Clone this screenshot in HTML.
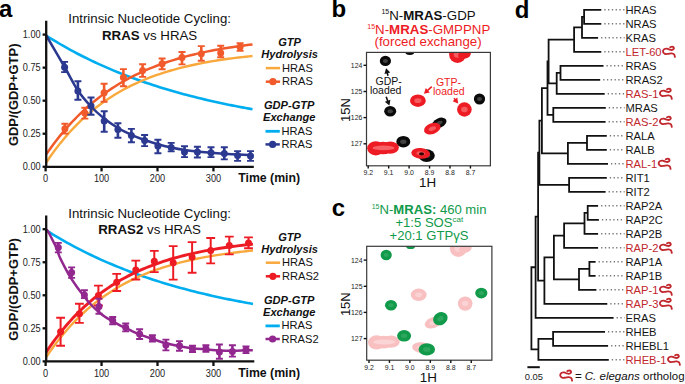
<!DOCTYPE html><html><head><meta charset="utf-8"><style>html,body{margin:0;padding:0;background:#fff;width:685px;height:384px;overflow:hidden}svg{display:block}text{font-family:"Liberation Sans",sans-serif}</style></head><body><svg width="685" height="384" viewBox="0 0 685 384" font-family="&quot;Liberation Sans&quot;, sans-serif">
<rect width="685" height="384" fill="#fff"/>
<text x="-1.00" y="17.00" font-size="24.00" font-weight="bold" font-style="normal" text-anchor="start" fill="#000" >a</text>
<text x="149.60" y="23.00" font-size="13.25" font-weight="normal" font-style="normal" text-anchor="middle" fill="#111" >Intrinsic Nucleotide Cycling:</text>
<text x="149.6" y="39.60" font-size="13.3" text-anchor="middle" fill="#111"><tspan font-weight="bold">RRAS</tspan> vs HRAS</text>
<text transform="translate(18.3,94.80) rotate(-90)" font-size="13.5" font-weight="bold" text-anchor="middle" fill="#111" textLength="102.5" lengthAdjust="spacingAndGlyphs">GDP/(GDP+GTP)</text>
<path d="M46.20,35.66 L49.64,37.81 L53.08,39.92 L56.52,41.98 L59.95,44.00 L63.39,45.98 L66.83,47.91 L70.27,49.81 L73.71,51.66 L77.15,53.48 L80.58,55.25 L84.02,56.99 L87.46,58.69 L90.90,60.36 L94.34,61.99 L97.78,63.59 L101.21,65.15 L104.65,66.68 L108.09,68.18 L111.53,69.64 L114.97,71.08 L118.41,72.48 L121.84,73.85 L125.28,75.20 L128.72,76.52 L132.16,77.80 L135.60,79.07 L139.04,80.30 L142.47,81.51 L145.91,82.69 L149.35,83.85 L152.79,84.99 L156.23,86.09 L159.67,87.18 L163.10,88.24 L166.54,89.28 L169.98,90.30 L173.42,91.30 L176.86,92.28 L180.30,93.23 L183.73,94.17 L187.17,95.08 L190.61,95.98 L194.05,96.86 L197.49,97.71 L200.93,98.55 L204.36,99.38 L207.80,100.18 L211.24,100.97 L214.68,101.74 L218.12,102.50 L221.56,103.24 L224.99,103.96 L228.43,104.67 L231.87,105.36 L235.31,106.04 L238.75,106.70 L242.19,107.35 L245.62,107.99 L249.06,108.61 L252.50,109.22" stroke="#00aeef" stroke-width="2.6" fill="none"/>
<path d="M46.20,162.56 L49.64,157.50 L53.08,152.67 L56.52,148.05 L59.95,143.63 L63.39,139.41 L66.83,135.38 L70.27,131.52 L73.71,127.84 L77.15,124.32 L80.58,120.95 L84.02,117.74 L87.46,114.67 L90.90,111.73 L94.34,108.93 L97.78,106.25 L101.21,103.69 L104.65,101.24 L108.09,98.90 L111.53,96.66 L114.97,94.53 L118.41,92.48 L121.84,90.53 L125.28,88.67 L128.72,86.89 L132.16,85.18 L135.60,83.56 L139.04,82.00 L142.47,80.52 L145.91,79.10 L149.35,77.74 L152.79,76.44 L156.23,75.20 L159.67,74.02 L163.10,72.89 L166.54,71.81 L169.98,70.77 L173.42,69.79 L176.86,68.84 L180.30,67.94 L183.73,67.08 L187.17,66.25 L190.61,65.47 L194.05,64.71 L197.49,64.00 L200.93,63.31 L204.36,62.65 L207.80,62.02 L211.24,61.43 L214.68,60.85 L218.12,60.30 L221.56,59.78 L224.99,59.28 L228.43,58.80 L231.87,58.35 L235.31,57.91 L238.75,57.49 L242.19,57.10 L245.62,56.71 L249.06,56.35 L252.50,56.00" stroke="#f9a83c" stroke-width="2.4" fill="none"/>
<path d="M46.20,154.37 L49.64,149.45 L53.08,144.74 L56.52,140.22 L59.95,135.89 L63.39,131.73 L66.83,127.75 L70.27,123.93 L73.71,120.26 L77.15,116.75 L80.58,113.38 L84.02,110.15 L87.46,107.05 L90.90,104.08 L94.34,101.23 L97.78,98.50 L101.21,95.88 L104.65,93.37 L108.09,90.96 L111.53,88.65 L114.97,86.44 L118.41,84.31 L121.84,82.27 L125.28,80.32 L128.72,78.45 L132.16,76.65 L135.60,74.93 L139.04,73.28 L142.47,71.70 L145.91,70.18 L149.35,68.72 L152.79,67.33 L156.23,65.99 L159.67,64.70 L163.10,63.47 L166.54,62.29 L169.98,61.16 L173.42,60.07 L176.86,59.03 L180.30,58.04 L183.73,57.08 L187.17,56.16 L190.61,55.28 L194.05,54.44 L197.49,53.63 L200.93,52.85 L204.36,52.11 L207.80,51.39 L211.24,50.71 L214.68,50.05 L218.12,49.42 L221.56,48.82 L224.99,48.24 L228.43,47.69 L231.87,47.15 L235.31,46.64 L238.75,46.16 L242.19,45.69 L245.62,45.24 L249.06,44.81 L252.50,44.39" stroke="#f15a2a" stroke-width="2.5" fill="none"/>
<path d="M46.20,35.50 C49.27,40.75 59.32,57.83 64.60,67.00 C69.88,76.17 73.50,83.92 77.90,90.50 C82.30,97.08 86.62,101.83 91.00,106.50 C95.38,111.17 99.72,114.92 104.20,118.50 C108.68,122.08 113.37,125.28 117.90,128.00 C122.43,130.72 126.95,132.80 131.40,134.80 C135.85,136.80 140.18,138.43 144.60,140.00 C149.02,141.57 153.47,142.95 157.90,144.20 C162.33,145.45 166.77,146.53 171.20,147.50 C175.63,148.47 180.13,149.32 184.50,150.00 C188.87,150.68 192.98,151.13 197.40,151.60 C201.82,152.07 206.52,152.43 211.00,152.80 C215.48,153.17 219.87,153.50 224.30,153.80 C228.73,154.10 232.90,154.37 237.60,154.60 C242.30,154.83 250.02,155.10 252.50,155.20" stroke="#2b3990" stroke-width="2.5" fill="none"/>
<g stroke="#f15a2a" fill="none">
<path stroke-width="2.60" d="M64.90,123.80 V133.60"/>
<path stroke-width="1.9" d="M61.40,123.80 h7.00 M61.40,133.60 h7.00"/>
</g>
<circle cx="64.90" cy="128.70" r="3.50" fill="#f15a2a"/>
<g stroke="#f15a2a" fill="none">
<path stroke-width="2.60" d="M84.80,107.80 V118.60"/>
<path stroke-width="1.9" d="M81.30,107.80 h7.00 M81.30,118.60 h7.00"/>
</g>
<circle cx="84.80" cy="112.90" r="3.50" fill="#f15a2a"/>
<g stroke="#f15a2a" fill="none">
<path stroke-width="2.60" d="M104.10,83.80 V101.70"/>
<path stroke-width="1.9" d="M100.60,83.80 h7.00 M100.60,101.70 h7.00"/>
</g>
<circle cx="104.10" cy="92.80" r="3.50" fill="#f15a2a"/>
<g stroke="#f15a2a" fill="none">
<path stroke-width="2.60" d="M123.40,69.10 V86.20"/>
<path stroke-width="1.9" d="M119.90,69.10 h7.00 M119.90,86.20 h7.00"/>
</g>
<circle cx="123.40" cy="77.50" r="3.50" fill="#f15a2a"/>
<g stroke="#f15a2a" fill="none">
<path stroke-width="2.60" d="M142.60,64.30 V76.90"/>
<path stroke-width="1.9" d="M139.10,64.30 h7.00 M139.10,76.90 h7.00"/>
</g>
<circle cx="142.60" cy="70.40" r="3.50" fill="#f15a2a"/>
<g stroke="#f15a2a" fill="none">
<path stroke-width="2.60" d="M162.10,58.50 V69.30"/>
<path stroke-width="1.9" d="M158.60,58.50 h7.00 M158.60,69.30 h7.00"/>
</g>
<circle cx="162.10" cy="63.80" r="3.50" fill="#f15a2a"/>
<g stroke="#f15a2a" fill="none">
<path stroke-width="2.60" d="M182.00,52.00 V64.40"/>
<path stroke-width="1.9" d="M178.50,52.00 h7.00 M178.50,64.40 h7.00"/>
</g>
<circle cx="182.00" cy="57.60" r="3.50" fill="#f15a2a"/>
<g stroke="#f15a2a" fill="none">
<path stroke-width="2.60" d="M201.30,46.10 V60.70"/>
<path stroke-width="1.9" d="M197.80,46.10 h7.00 M197.80,60.70 h7.00"/>
</g>
<circle cx="201.30" cy="53.70" r="3.50" fill="#f15a2a"/>
<g stroke="#f15a2a" fill="none">
<path stroke-width="2.60" d="M220.70,45.70 V57.30"/>
<path stroke-width="1.9" d="M217.20,45.70 h7.00 M217.20,57.30 h7.00"/>
</g>
<circle cx="220.70" cy="53.00" r="3.50" fill="#f15a2a"/>
<g stroke="#f15a2a" fill="none">
<path stroke-width="2.60" d="M240.10,43.20 V50.90"/>
<path stroke-width="1.9" d="M236.60,43.20 h7.00 M236.60,50.90 h7.00"/>
</g>
<circle cx="240.10" cy="47.00" r="3.50" fill="#f15a2a"/>
<g stroke="#2b3990" fill="none">
<path stroke-width="2.60" d="M64.60,61.90 V72.10"/>
<path stroke-width="1.9" d="M61.10,61.90 h7.00 M61.10,72.10 h7.00"/>
</g>
<circle cx="64.60" cy="67.30" r="3.50" fill="#2b3990"/>
<g stroke="#2b3990" fill="none">
<path stroke-width="2.60" d="M77.90,81.30 V99.70"/>
<path stroke-width="1.9" d="M74.40,81.30 h7.00 M74.40,99.70 h7.00"/>
</g>
<circle cx="77.90" cy="91.00" r="3.50" fill="#2b3990"/>
<g stroke="#2b3990" fill="none">
<path stroke-width="2.60" d="M91.00,97.50 V114.70"/>
<path stroke-width="1.9" d="M87.50,97.50 h7.00 M87.50,114.70 h7.00"/>
</g>
<circle cx="91.00" cy="106.00" r="3.50" fill="#2b3990"/>
<g stroke="#2b3990" fill="none">
<path stroke-width="2.60" d="M104.20,111.30 V131.70"/>
<path stroke-width="1.9" d="M100.70,111.30 h7.00 M100.70,131.70 h7.00"/>
</g>
<circle cx="104.20" cy="121.00" r="3.50" fill="#2b3990"/>
<g stroke="#2b3990" fill="none">
<path stroke-width="2.60" d="M117.90,123.30 V137.70"/>
<path stroke-width="1.9" d="M114.40,123.30 h7.00 M114.40,137.70 h7.00"/>
</g>
<circle cx="117.90" cy="129.60" r="3.50" fill="#2b3990"/>
<g stroke="#2b3990" fill="none">
<path stroke-width="2.60" d="M131.40,128.90 V142.30"/>
<path stroke-width="1.9" d="M127.90,128.90 h7.00 M127.90,142.30 h7.00"/>
</g>
<circle cx="131.40" cy="135.60" r="3.50" fill="#2b3990"/>
<g stroke="#2b3990" fill="none">
<path stroke-width="2.60" d="M144.60,135.00 V146.10"/>
<path stroke-width="1.9" d="M141.10,135.00 h7.00 M141.10,146.10 h7.00"/>
</g>
<circle cx="144.60" cy="140.40" r="3.50" fill="#2b3990"/>
<g stroke="#2b3990" fill="none">
<path stroke-width="2.60" d="M157.90,139.70 V153.30"/>
<path stroke-width="1.9" d="M154.40,139.70 h7.00 M154.40,153.30 h7.00"/>
</g>
<circle cx="157.90" cy="146.10" r="3.50" fill="#2b3990"/>
<g stroke="#2b3990" fill="none">
<path stroke-width="2.60" d="M171.20,142.90 V151.40"/>
<path stroke-width="1.9" d="M167.70,142.90 h7.00 M167.70,151.40 h7.00"/>
</g>
<circle cx="171.20" cy="147.40" r="3.50" fill="#2b3990"/>
<g stroke="#2b3990" fill="none">
<path stroke-width="2.60" d="M184.50,146.30 V157.10"/>
<path stroke-width="1.9" d="M181.00,146.30 h7.00 M181.00,157.10 h7.00"/>
</g>
<circle cx="184.50" cy="152.10" r="3.50" fill="#2b3990"/>
<g stroke="#2b3990" fill="none">
<path stroke-width="2.60" d="M197.40,146.70 V157.50"/>
<path stroke-width="1.9" d="M193.90,146.70 h7.00 M193.90,157.50 h7.00"/>
</g>
<circle cx="197.40" cy="152.10" r="3.50" fill="#2b3990"/>
<g stroke="#2b3990" fill="none">
<path stroke-width="2.60" d="M211.00,147.30 V157.10"/>
<path stroke-width="1.9" d="M207.50,147.30 h7.00 M207.50,157.10 h7.00"/>
</g>
<circle cx="211.00" cy="152.70" r="3.50" fill="#2b3990"/>
<g stroke="#2b3990" fill="none">
<path stroke-width="2.60" d="M224.30,147.30 V159.40"/>
<path stroke-width="1.9" d="M220.80,147.30 h7.00 M220.80,159.40 h7.00"/>
</g>
<circle cx="224.30" cy="153.60" r="3.50" fill="#2b3990"/>
<g stroke="#2b3990" fill="none">
<path stroke-width="2.60" d="M237.60,151.10 V160.90"/>
<path stroke-width="1.9" d="M234.10,151.10 h7.00 M234.10,160.90 h7.00"/>
</g>
<circle cx="237.60" cy="155.50" r="3.50" fill="#2b3990"/>
<g stroke="#2b3990" fill="none">
<path stroke-width="2.60" d="M250.50,151.10 V160.90"/>
<path stroke-width="1.9" d="M247.00,151.10 h7.00 M247.00,160.90 h7.00"/>
</g>
<circle cx="250.50" cy="155.90" r="3.50" fill="#2b3990"/>
<g stroke="#111" stroke-width="2.3" fill="none">
<path d="M46.2,20.80 V167.80 M45.2,166.80 H253.80"/>
<path d="M42.6,166.76 H46"/>
<path d="M42.6,133.72 H46"/>
<path d="M42.6,100.68 H46"/>
<path d="M42.6,67.64 H46"/>
<path d="M42.6,34.60 H46"/>
<path d="M45.60,166.80 V171.40"/>
<path d="M101.55,166.80 V171.40"/>
<path d="M157.50,166.80 V171.40"/>
<path d="M213.45,166.80 V171.40"/>
</g>
<text x="40.60" y="170.36" font-size="10.20" font-weight="normal" font-style="normal" text-anchor="end" fill="#222" textLength="17.86" lengthAdjust="spacingAndGlyphs">0.00</text>
<text x="40.60" y="137.32" font-size="10.20" font-weight="normal" font-style="normal" text-anchor="end" fill="#222" textLength="17.86" lengthAdjust="spacingAndGlyphs">0.25</text>
<text x="40.60" y="104.28" font-size="10.20" font-weight="normal" font-style="normal" text-anchor="end" fill="#222" textLength="17.86" lengthAdjust="spacingAndGlyphs">0.50</text>
<text x="40.60" y="71.24" font-size="10.20" font-weight="normal" font-style="normal" text-anchor="end" fill="#222" textLength="17.86" lengthAdjust="spacingAndGlyphs">0.75</text>
<text x="40.60" y="38.20" font-size="10.20" font-weight="normal" font-style="normal" text-anchor="end" fill="#222" textLength="17.86" lengthAdjust="spacingAndGlyphs">1.00</text>
<text x="45.60" y="182.20" font-size="10.20" font-weight="normal" font-style="normal" text-anchor="middle" fill="#222" textLength="5.10" lengthAdjust="spacingAndGlyphs">0</text>
<text x="101.55" y="182.20" font-size="10.20" font-weight="normal" font-style="normal" text-anchor="middle" fill="#222" textLength="15.31" lengthAdjust="spacingAndGlyphs">100</text>
<text x="157.50" y="182.20" font-size="10.20" font-weight="normal" font-style="normal" text-anchor="middle" fill="#222" textLength="15.31" lengthAdjust="spacingAndGlyphs">200</text>
<text x="213.45" y="182.20" font-size="10.20" font-weight="normal" font-style="normal" text-anchor="middle" fill="#222" textLength="15.31" lengthAdjust="spacingAndGlyphs">300</text>
<text x="238.20" y="182.10" font-size="12.30" font-weight="bold" font-style="normal" text-anchor="start" fill="#111" >Time (min)</text>
<text x="289.60" y="46.40" font-size="11.10" font-weight="bold" font-style="italic" text-anchor="middle" fill="#111" >GTP</text>
<text x="289.60" y="58.20" font-size="11.10" font-weight="bold" font-style="italic" text-anchor="middle" fill="#111" >Hydrolysis</text>
<path d="M265.8,68.10 H280.1" stroke="#f9a83c" stroke-width="2.5"/>
<text x="282.00" y="71.60" font-size="11.10" font-weight="normal" font-style="normal" text-anchor="start" fill="#111" >HRAS</text>
<path d="M265.8,81.70 H280.1" stroke="#f15a2a" stroke-width="2.5"/>
<circle cx="272.9" cy="81.70" r="3.6" fill="#f15a2a"/>
<text x="282.00" y="85.00" font-size="11.10" font-weight="normal" font-style="normal" text-anchor="start" fill="#111" >RRAS</text>
<text x="289.20" y="109.40" font-size="11.10" font-weight="bold" font-style="italic" text-anchor="middle" fill="#111" >GDP-GTP</text>
<text x="289.20" y="121.10" font-size="11.10" font-weight="bold" font-style="italic" text-anchor="middle" fill="#111" >Exchange</text>
<path d="M265.5,131.30 H279.8" stroke="#00aeef" stroke-width="2.8"/>
<text x="281.60" y="134.80" font-size="11.10" font-weight="normal" font-style="normal" text-anchor="start" fill="#111" >HRAS</text>
<path d="M265.5,144.40 H279.8" stroke="#2b3990" stroke-width="2.5"/>
<circle cx="272.6" cy="144.40" r="3.6" fill="#2b3990"/>
<text x="281.60" y="148.10" font-size="11.10" font-weight="normal" font-style="normal" text-anchor="start" fill="#111" >RRAS</text>
<text x="149.60" y="217.60" font-size="13.25" font-weight="normal" font-style="normal" text-anchor="middle" fill="#111" >Intrinsic Nucleotide Cycling:</text>
<text x="149.6" y="234.20" font-size="13.3" text-anchor="middle" fill="#111"><tspan font-weight="bold">RRAS2</tspan> vs HRAS</text>
<text transform="translate(18.3,289.40) rotate(-90)" font-size="13.5" font-weight="bold" text-anchor="middle" fill="#111" textLength="102.5" lengthAdjust="spacingAndGlyphs">GDP/(GDP+GTP)</text>
<path d="M46.20,230.26 L49.65,232.42 L53.09,234.53 L56.54,236.60 L59.99,238.62 L63.43,240.60 L66.88,242.54 L70.33,244.44 L73.77,246.30 L77.22,248.12 L80.67,249.90 L84.11,251.64 L87.56,253.34 L91.01,255.01 L94.45,256.65 L97.90,258.24 L101.35,259.81 L104.79,261.34 L108.24,262.84 L111.69,264.31 L115.13,265.74 L118.58,267.15 L122.03,268.53 L125.47,269.87 L128.92,271.19 L132.37,272.48 L135.81,273.74 L139.26,274.98 L142.71,276.19 L146.15,277.38 L149.60,278.53 L153.05,279.67 L156.49,280.78 L159.94,281.87 L163.39,282.93 L166.83,283.97 L170.28,284.99 L173.73,285.99 L177.17,286.97 L180.62,287.92 L184.07,288.86 L187.51,289.77 L190.96,290.67 L194.41,291.55 L197.85,292.40 L201.30,293.25 L204.75,294.07 L208.19,294.87 L211.64,295.66 L215.09,296.43 L218.53,297.19 L221.98,297.93 L225.43,298.65 L228.87,299.36 L232.32,300.05 L235.77,300.73 L239.21,301.39 L242.66,302.04 L246.11,302.68 L249.55,303.30 L253.00,303.91" stroke="#00aeef" stroke-width="2.6" fill="none"/>
<path d="M46.20,357.16 L49.65,352.09 L53.09,347.24 L56.54,342.61 L59.99,338.19 L63.43,333.96 L66.88,329.92 L70.33,326.06 L73.77,322.37 L77.22,318.84 L80.67,315.48 L84.11,312.26 L87.56,309.18 L91.01,306.24 L94.45,303.44 L97.90,300.75 L101.35,298.19 L104.79,295.74 L108.24,293.40 L111.69,291.16 L115.13,289.03 L118.58,286.98 L122.03,285.03 L125.47,283.17 L128.92,281.39 L132.37,279.68 L135.81,278.06 L139.26,276.50 L142.71,275.02 L146.15,273.60 L149.60,272.24 L153.05,270.95 L156.49,269.71 L159.94,268.53 L163.39,267.40 L166.83,266.32 L170.28,265.28 L173.73,264.30 L177.17,263.36 L180.62,262.46 L184.07,261.60 L187.51,260.77 L190.96,259.99 L194.41,259.24 L197.85,258.52 L201.30,257.84 L204.75,257.18 L208.19,256.56 L211.64,255.96 L215.09,255.39 L218.53,254.84 L221.98,254.32 L225.43,253.82 L228.87,253.34 L232.32,252.89 L235.77,252.45 L239.21,252.04 L242.66,251.64 L246.11,251.26 L249.55,250.90 L253.00,250.55" stroke="#f9a83c" stroke-width="2.4" fill="none"/>
<path d="M46.20,352.14 L49.65,347.04 L53.09,342.17 L56.54,337.51 L59.99,333.06 L63.43,328.80 L66.88,324.73 L70.33,320.84 L73.77,317.12 L77.22,313.56 L80.67,310.16 L84.11,306.91 L87.56,303.81 L91.01,300.84 L94.45,298.00 L97.90,295.29 L101.35,292.69 L104.79,290.21 L108.24,287.84 L111.69,285.57 L115.13,283.41 L118.58,281.34 L122.03,279.36 L125.47,277.46 L128.92,275.65 L132.37,273.92 L135.81,272.27 L139.26,270.69 L142.71,269.18 L146.15,267.73 L149.60,266.35 L153.05,265.03 L156.49,263.77 L159.94,262.56 L163.39,261.41 L166.83,260.31 L170.28,259.25 L173.73,258.24 L177.17,257.28 L180.62,256.36 L184.07,255.48 L187.51,254.64 L190.96,253.83 L194.41,253.06 L197.85,252.33 L201.30,251.63 L204.75,250.95 L208.19,250.31 L211.64,249.70 L215.09,249.11 L218.53,248.55 L221.98,248.01 L225.43,247.50 L228.87,247.01 L232.32,246.54 L235.77,246.09 L239.21,245.66 L242.66,245.25 L246.11,244.86 L249.55,244.49 L253.00,244.13" stroke="#ed1c24" stroke-width="2.9" fill="none"/>
<path d="M46.50,229.50 C46.85,229.98 47.73,230.92 48.60,232.40 C49.47,233.88 50.40,235.83 51.70,238.40 C53.00,240.97 55.03,244.60 56.40,247.80 C57.77,251.00 58.33,254.05 59.90,257.60 C61.47,261.15 64.07,265.83 65.80,269.10 C67.53,272.37 68.47,274.27 70.30,277.20 C72.13,280.13 74.73,283.82 76.80,286.70 C78.87,289.58 80.52,291.70 82.70,294.50 C84.88,297.30 87.18,300.53 89.90,303.50 C92.62,306.47 96.40,310.03 99.00,312.30 C101.60,314.57 103.22,315.61 105.50,317.10 C107.78,318.59 110.52,320.00 112.70,321.25 C114.88,322.50 116.43,323.48 118.60,324.60 C120.77,325.73 123.38,326.88 125.70,328.00 C128.02,329.12 130.18,330.25 132.50,331.30 C134.82,332.35 136.28,333.03 139.60,334.30 C142.92,335.57 148.02,337.40 152.40,338.90 C156.78,340.40 161.38,342.08 165.90,343.30 C170.42,344.52 175.07,345.37 179.50,346.20 C183.93,347.03 188.10,347.77 192.50,348.30 C196.90,348.83 201.42,349.05 205.90,349.40 C210.38,349.75 214.98,350.18 219.40,350.40 C223.82,350.62 227.97,350.72 232.40,350.70 C236.83,350.68 242.60,350.38 246.00,350.30 C249.40,350.22 251.67,350.22 252.80,350.20" stroke="#92278f" stroke-width="2.5" fill="none"/>
<g stroke="#ed1c24" fill="none">
<path stroke-width="2.00" d="M60.60,317.80 V345.80"/>
<path stroke-width="1.9" d="M56.20,317.80 h8.80 M56.20,345.80 h8.80"/>
</g>
<circle cx="60.60" cy="331.80" r="3.50" fill="#ed1c24"/>
<g stroke="#ed1c24" fill="none">
<path stroke-width="2.00" d="M79.40,303.70 V322.90"/>
<path stroke-width="1.9" d="M75.00,303.70 h8.80 M75.00,322.90 h8.80"/>
</g>
<circle cx="79.40" cy="313.80" r="3.50" fill="#ed1c24"/>
<g stroke="#ed1c24" fill="none">
<path stroke-width="2.00" d="M98.40,285.60 V305.50"/>
<path stroke-width="1.9" d="M94.00,285.60 h8.80 M94.00,305.50 h8.80"/>
</g>
<circle cx="98.40" cy="295.50" r="3.50" fill="#ed1c24"/>
<g stroke="#ed1c24" fill="none">
<path stroke-width="2.00" d="M116.70,273.90 V291.00"/>
<path stroke-width="1.9" d="M112.30,273.90 h8.80 M112.30,291.00 h8.80"/>
</g>
<circle cx="116.70" cy="282.20" r="3.50" fill="#ed1c24"/>
<g stroke="#ed1c24" fill="none">
<path stroke-width="2.00" d="M135.80,260.60 V279.50"/>
<path stroke-width="1.9" d="M131.40,260.60 h8.80 M131.40,279.50 h8.80"/>
</g>
<circle cx="135.80" cy="270.00" r="3.50" fill="#ed1c24"/>
<g stroke="#ed1c24" fill="none">
<path stroke-width="2.00" d="M154.30,250.90 V272.10"/>
<path stroke-width="1.9" d="M149.90,250.90 h8.80 M149.90,272.10 h8.80"/>
</g>
<circle cx="154.30" cy="261.30" r="3.50" fill="#ed1c24"/>
<g stroke="#ed1c24" fill="none">
<path stroke-width="2.00" d="M173.20,246.10 V279.60"/>
<path stroke-width="1.9" d="M168.80,246.10 h8.80 M168.80,279.60 h8.80"/>
</g>
<circle cx="173.20" cy="262.70" r="3.50" fill="#ed1c24"/>
<g stroke="#ed1c24" fill="none">
<path stroke-width="2.00" d="M192.10,242.10 V272.70"/>
<path stroke-width="1.9" d="M187.70,242.10 h8.80 M187.70,272.70 h8.80"/>
</g>
<circle cx="192.10" cy="257.10" r="3.50" fill="#ed1c24"/>
<g stroke="#ed1c24" fill="none">
<path stroke-width="2.00" d="M210.70,238.00 V263.40"/>
<path stroke-width="1.9" d="M206.30,238.00 h8.80 M206.30,263.40 h8.80"/>
</g>
<circle cx="210.70" cy="250.40" r="3.50" fill="#ed1c24"/>
<g stroke="#ed1c24" fill="none">
<path stroke-width="2.00" d="M229.30,236.60 V254.40"/>
<path stroke-width="1.9" d="M224.90,236.60 h8.80 M224.90,254.40 h8.80"/>
</g>
<circle cx="229.30" cy="245.50" r="3.50" fill="#ed1c24"/>
<g stroke="#ed1c24" fill="none">
<path stroke-width="2.00" d="M248.50,237.40 V248.20"/>
<path stroke-width="1.9" d="M244.10,237.40 h8.80 M244.10,248.20 h8.80"/>
</g>
<circle cx="248.50" cy="243.00" r="3.50" fill="#ed1c24"/>
<g stroke="#92278f" fill="none">
<path stroke-width="2.60" d="M58.30,242.90 V252.40"/>
<path stroke-width="1.9" d="M54.80,242.90 h7.00 M54.80,252.40 h7.00"/>
</g>
<circle cx="58.30" cy="247.60" r="3.50" fill="#92278f"/>
<g stroke="#92278f" fill="none">
<path stroke-width="2.60" d="M71.60,267.40 V277.90"/>
<path stroke-width="1.9" d="M68.10,267.40 h7.00 M68.10,277.90 h7.00"/>
</g>
<circle cx="71.60" cy="272.50" r="3.50" fill="#92278f"/>
<g stroke="#92278f" fill="none">
<path stroke-width="2.60" d="M84.40,290.20 V298.10"/>
<path stroke-width="1.9" d="M80.90,290.20 h7.00 M80.90,298.10 h7.00"/>
</g>
<circle cx="84.40" cy="295.00" r="3.50" fill="#92278f"/>
<g stroke="#92278f" fill="none">
<path stroke-width="2.60" d="M99.00,298.80 V313.80"/>
<path stroke-width="1.9" d="M95.50,298.80 h7.00 M95.50,313.80 h7.00"/>
</g>
<circle cx="99.00" cy="306.50" r="3.50" fill="#92278f"/>
<g stroke="#92278f" fill="none">
<path stroke-width="2.60" d="M112.70,317.00 V324.20"/>
<path stroke-width="1.9" d="M109.20,317.00 h7.00 M109.20,324.20 h7.00"/>
</g>
<circle cx="112.70" cy="320.60" r="3.50" fill="#92278f"/>
<g stroke="#92278f" fill="none">
<path stroke-width="2.60" d="M125.70,323.50 V331.40"/>
<path stroke-width="1.9" d="M122.20,323.50 h7.00 M122.20,331.40 h7.00"/>
</g>
<circle cx="125.70" cy="327.60" r="3.50" fill="#92278f"/>
<g stroke="#92278f" fill="none">
<path stroke-width="2.60" d="M139.60,329.20 V339.00"/>
<path stroke-width="1.9" d="M136.10,329.20 h7.00 M136.10,339.00 h7.00"/>
</g>
<circle cx="139.60" cy="334.10" r="3.50" fill="#92278f"/>
<g stroke="#92278f" fill="none">
<path stroke-width="2.60" d="M152.40,335.20 V341.60"/>
<path stroke-width="1.9" d="M148.90,335.20 h7.00 M148.90,341.60 h7.00"/>
</g>
<circle cx="152.40" cy="338.50" r="3.50" fill="#92278f"/>
<g stroke="#92278f" fill="none">
<path stroke-width="2.60" d="M165.90,339.60 V350.40"/>
<path stroke-width="1.9" d="M162.40,339.60 h7.00 M162.40,350.40 h7.00"/>
</g>
<circle cx="165.90" cy="345.00" r="3.50" fill="#92278f"/>
<g stroke="#92278f" fill="none">
<path stroke-width="2.60" d="M179.50,341.10 V350.70"/>
<path stroke-width="1.9" d="M176.00,341.10 h7.00 M176.00,350.70 h7.00"/>
</g>
<circle cx="179.50" cy="345.80" r="3.50" fill="#92278f"/>
<g stroke="#92278f" fill="none">
<path stroke-width="2.60" d="M192.50,345.80 V352.00"/>
<path stroke-width="1.9" d="M189.00,345.80 h7.00 M189.00,352.00 h7.00"/>
</g>
<circle cx="192.50" cy="349.00" r="3.50" fill="#92278f"/>
<g stroke="#92278f" fill="none">
<path stroke-width="2.60" d="M205.90,345.20 V351.80"/>
<path stroke-width="1.9" d="M202.40,345.20 h7.00 M202.40,351.80 h7.00"/>
</g>
<circle cx="205.90" cy="348.50" r="3.50" fill="#92278f"/>
<g stroke="#92278f" fill="none">
<path stroke-width="2.60" d="M219.40,344.50 V358.70"/>
<path stroke-width="1.9" d="M215.90,344.50 h7.00 M215.90,358.70 h7.00"/>
</g>
<circle cx="219.40" cy="352.10" r="3.50" fill="#92278f"/>
<g stroke="#92278f" fill="none">
<path stroke-width="2.60" d="M232.40,345.30 V356.60"/>
<path stroke-width="1.9" d="M228.90,345.30 h7.00 M228.90,356.60 h7.00"/>
</g>
<circle cx="232.40" cy="351.40" r="3.50" fill="#92278f"/>
<g stroke="#92278f" fill="none">
<path stroke-width="2.60" d="M246.00,346.50 V353.10"/>
<path stroke-width="1.9" d="M242.50,346.50 h7.00 M242.50,353.10 h7.00"/>
</g>
<circle cx="246.00" cy="349.80" r="3.50" fill="#92278f"/>
<g stroke="#111" stroke-width="2.3" fill="none">
<path d="M46.2,215.40 V362.40 M45.2,361.40 H254.30"/>
<path d="M42.6,361.36 H46"/>
<path d="M42.6,328.32 H46"/>
<path d="M42.6,295.28 H46"/>
<path d="M42.6,262.24 H46"/>
<path d="M42.6,229.20 H46"/>
<path d="M45.60,361.40 V366.00"/>
<path d="M101.55,361.40 V366.00"/>
<path d="M157.50,361.40 V366.00"/>
<path d="M213.45,361.40 V366.00"/>
</g>
<text x="40.60" y="364.96" font-size="10.20" font-weight="normal" font-style="normal" text-anchor="end" fill="#222" textLength="17.86" lengthAdjust="spacingAndGlyphs">0.00</text>
<text x="40.60" y="331.92" font-size="10.20" font-weight="normal" font-style="normal" text-anchor="end" fill="#222" textLength="17.86" lengthAdjust="spacingAndGlyphs">0.25</text>
<text x="40.60" y="298.88" font-size="10.20" font-weight="normal" font-style="normal" text-anchor="end" fill="#222" textLength="17.86" lengthAdjust="spacingAndGlyphs">0.50</text>
<text x="40.60" y="265.84" font-size="10.20" font-weight="normal" font-style="normal" text-anchor="end" fill="#222" textLength="17.86" lengthAdjust="spacingAndGlyphs">0.75</text>
<text x="40.60" y="232.80" font-size="10.20" font-weight="normal" font-style="normal" text-anchor="end" fill="#222" textLength="17.86" lengthAdjust="spacingAndGlyphs">1.00</text>
<text x="45.60" y="376.80" font-size="10.20" font-weight="normal" font-style="normal" text-anchor="middle" fill="#222" textLength="5.10" lengthAdjust="spacingAndGlyphs">0</text>
<text x="101.55" y="376.80" font-size="10.20" font-weight="normal" font-style="normal" text-anchor="middle" fill="#222" textLength="15.31" lengthAdjust="spacingAndGlyphs">100</text>
<text x="157.50" y="376.80" font-size="10.20" font-weight="normal" font-style="normal" text-anchor="middle" fill="#222" textLength="15.31" lengthAdjust="spacingAndGlyphs">200</text>
<text x="213.45" y="376.80" font-size="10.20" font-weight="normal" font-style="normal" text-anchor="middle" fill="#222" textLength="15.31" lengthAdjust="spacingAndGlyphs">300</text>
<text x="238.20" y="376.70" font-size="12.30" font-weight="bold" font-style="normal" text-anchor="start" fill="#111" >Time (min)</text>
<text x="289.60" y="241.00" font-size="11.10" font-weight="bold" font-style="italic" text-anchor="middle" fill="#111" >GTP</text>
<text x="289.60" y="252.80" font-size="11.10" font-weight="bold" font-style="italic" text-anchor="middle" fill="#111" >Hydrolysis</text>
<path d="M265.8,262.70 H280.1" stroke="#f9a83c" stroke-width="2.5"/>
<text x="282.00" y="266.20" font-size="11.10" font-weight="normal" font-style="normal" text-anchor="start" fill="#111" >HRAS</text>
<path d="M265.8,276.30 H280.1" stroke="#ed1c24" stroke-width="2.5"/>
<circle cx="272.9" cy="276.30" r="3.6" fill="#ed1c24"/>
<text x="282.00" y="279.60" font-size="11.10" font-weight="normal" font-style="normal" text-anchor="start" fill="#111" >RRAS2</text>
<text x="289.20" y="304.00" font-size="11.10" font-weight="bold" font-style="italic" text-anchor="middle" fill="#111" >GDP-GTP</text>
<text x="289.20" y="315.70" font-size="11.10" font-weight="bold" font-style="italic" text-anchor="middle" fill="#111" >Exchange</text>
<path d="M265.5,325.90 H279.8" stroke="#00aeef" stroke-width="2.8"/>
<text x="281.60" y="329.40" font-size="11.10" font-weight="normal" font-style="normal" text-anchor="start" fill="#111" >HRAS</text>
<path d="M265.5,339.00 H279.8" stroke="#92278f" stroke-width="2.5"/>
<circle cx="272.6" cy="339.00" r="3.6" fill="#92278f"/>
<text x="281.60" y="342.70" font-size="11.10" font-weight="normal" font-style="normal" text-anchor="start" fill="#111" >RRAS2</text>
<text x="331.40" y="17.20" font-size="24.00" font-weight="bold" font-style="normal" text-anchor="start" fill="#000" >b</text>
<text x="428.5" y="19.6" font-size="13.3" text-anchor="middle" fill="#111"><tspan font-size="7" dy="-5.2">15</tspan><tspan dy="5.2">N-</tspan><tspan font-weight="bold">MRAS</tspan>-GDP</text>
<text x="428.8" y="34.1" font-size="13.3" text-anchor="middle" fill="#ed1c24"><tspan font-size="7" dy="-5.2">15</tspan><tspan dy="5.2">N-</tspan><tspan font-weight="bold">MRAS</tspan>-GMPPNP</text>
<text x="428.10" y="46.10" font-size="13.30" font-weight="normal" font-style="normal" text-anchor="middle" fill="#ed1c24" >(forced exchange)</text>
<clipPath id="cb"><rect x="366.50" y="52.40" width="123.90" height="113.40"/></clipPath>
<g clip-path="url(#cb)">
<g transform="translate(385.40,60.90) rotate(0.0)">
<ellipse rx="5.60" ry="5.20" fill="#0a0a0a"/>
<ellipse rx="2.52" ry="1.98" fill="#777" opacity="0.5"/>
</g>
<g transform="translate(409.80,52.30) rotate(0.0)">
<ellipse rx="4.40" ry="2.60" fill="#0a0a0a"/>
</g>
<g transform="translate(390.20,111.20) rotate(0.0)">
<ellipse rx="6.00" ry="5.30" fill="#0a0a0a"/>
<ellipse rx="2.70" ry="2.01" fill="#777" opacity="0.5"/>
</g>
<g transform="translate(479.50,99.00) rotate(0.0)">
<ellipse rx="5.60" ry="5.50" fill="#0a0a0a"/>
<ellipse rx="2.52" ry="2.09" fill="#777" opacity="0.5"/>
</g>
<g transform="translate(439.30,123.00) rotate(-25.0)">
<ellipse rx="7.60" ry="4.80" fill="#0a0a0a"/>
<ellipse rx="3.42" ry="1.82" fill="#777" opacity="0.5"/>
</g>
<g transform="translate(403.30,141.70) rotate(0.0)">
<ellipse rx="7.00" ry="5.80" fill="#0a0a0a"/>
<ellipse rx="3.15" ry="2.20" fill="#777" opacity="0.5"/>
</g>
<g transform="translate(426.60,155.60) rotate(0.0)">
<ellipse rx="8.20" ry="6.30" fill="#0a0a0a"/>
<ellipse rx="3.69" ry="2.39" fill="#777" opacity="0.5"/>
</g>
<g transform="translate(457.50,54.50) rotate(0.0)">
<ellipse rx="8.40" ry="8.40" fill="#ed1c24"/>
<ellipse rx="3.78" ry="3.19" fill="#f99" opacity="0.5"/>
</g>
<g transform="translate(464.50,54.50) rotate(-15.0)">
<ellipse rx="6.50" ry="4.20" fill="#ed1c24"/>
</g>
<g transform="translate(417.90,100.70) rotate(0.0)">
<ellipse rx="7.90" ry="6.20" fill="#ed1c24"/>
<ellipse rx="3.56" ry="2.36" fill="#f99" opacity="0.5"/>
</g>
<g transform="translate(464.40,109.50) rotate(0.0)">
<ellipse rx="7.30" ry="7.20" fill="#ed1c24"/>
<ellipse rx="3.29" ry="2.74" fill="#f99" opacity="0.5"/>
</g>
<g transform="translate(432.30,128.60) rotate(-20.0)">
<ellipse rx="8.60" ry="5.40" fill="#ed1c24"/>
<ellipse rx="3.87" ry="2.05" fill="#f99" opacity="0.5"/>
</g>
<g transform="translate(375.80,148.30) rotate(0.0)">
<ellipse rx="8.60" ry="7.10" fill="#ed1c24"/>
</g>
<g transform="translate(383.00,148.00) rotate(0.0)">
<ellipse rx="9.50" ry="6.30" fill="#ed1c24"/>
</g>
<g transform="translate(390.30,147.60) rotate(0.0)">
<ellipse rx="8.60" ry="6.10" fill="#ed1c24"/>
</g>
<g transform="translate(420.70,153.40) rotate(5.0)">
<ellipse rx="9.40" ry="5.30" fill="#ed1c24"/>
<ellipse rx="4.23" ry="2.01" fill="#f99" opacity="0.5"/>
</g>
<ellipse cx="383.50" cy="147.90" rx="11" ry="2.4" fill="#f99" opacity="0.55"/>
<ellipse cx="421.60" cy="153.80" rx="2.6" ry="1.6" fill="#300"/>
</g>
<rect x="366.50" y="52.40" width="123.90" height="113.40" fill="none" stroke="#3a3a3a" stroke-width="1.2"/>
<g stroke="#111" stroke-width="1.4">
<path d="M363.50,65.30 H366.50"/>
<path d="M363.50,91.50 H366.50"/>
<path d="M363.50,117.60 H366.50"/>
<path d="M363.50,143.80 H366.50"/>
<path d="M368.20,165.80 V168.50"/>
<path d="M388.65,165.80 V168.50"/>
<path d="M409.10,165.80 V168.50"/>
<path d="M429.55,165.80 V168.50"/>
<path d="M450.00,165.80 V168.50"/>
<path d="M470.45,165.80 V168.50"/>
</g>
<text x="362.30" y="67.70" font-size="6.90" font-weight="normal" font-style="normal" text-anchor="end" fill="#222" >124</text>
<text x="362.30" y="93.90" font-size="6.90" font-weight="normal" font-style="normal" text-anchor="end" fill="#222" >125</text>
<text x="362.30" y="120.00" font-size="6.90" font-weight="normal" font-style="normal" text-anchor="end" fill="#222" >126</text>
<text x="362.30" y="146.20" font-size="6.90" font-weight="normal" font-style="normal" text-anchor="end" fill="#222" >127</text>
<text x="368.20" y="175.10" font-size="6.90" font-weight="normal" font-style="normal" text-anchor="middle" fill="#222" >9.2</text>
<text x="388.65" y="175.10" font-size="6.90" font-weight="normal" font-style="normal" text-anchor="middle" fill="#222" >9.1</text>
<text x="409.10" y="175.10" font-size="6.90" font-weight="normal" font-style="normal" text-anchor="middle" fill="#222" >9.0</text>
<text x="429.55" y="175.10" font-size="6.90" font-weight="normal" font-style="normal" text-anchor="middle" fill="#222" >8.9</text>
<text x="450.00" y="175.10" font-size="6.90" font-weight="normal" font-style="normal" text-anchor="middle" fill="#222" >8.8</text>
<text x="470.45" y="175.10" font-size="6.90" font-weight="normal" font-style="normal" text-anchor="middle" fill="#222" >8.7</text>
<text x="427.60" y="187.40" font-size="13.40" font-weight="normal" font-style="normal" text-anchor="middle" fill="#111" >1H</text>
<text transform="translate(349.60,110.10) rotate(-90)" font-size="13" text-anchor="middle" fill="#111">15N</text>
<text x="388.60" y="85.40" font-size="10.50" font-weight="normal" font-style="normal" text-anchor="middle" fill="#111" >GDP-</text>
<text x="385.70" y="94.30" font-size="10.50" font-weight="normal" font-style="normal" text-anchor="middle" fill="#111" >loaded</text>
<text x="448.50" y="86.40" font-size="10.50" font-weight="normal" font-style="normal" text-anchor="middle" fill="#ed1c24" >GTP-</text>
<text x="448.80" y="95.30" font-size="10.50" font-weight="normal" font-style="normal" text-anchor="middle" fill="#ed1c24" >loaded</text>
<path d="M388.00,75.80 L387.24,72.76" stroke="#111" stroke-width="1.60"/>
<path d="M386.10,68.20 L390.27,72.52 L384.45,73.97 Z" fill="#111"/>
<path d="M386.20,96.80 L387.79,101.18" stroke="#111" stroke-width="1.60"/>
<path d="M389.40,105.60 L384.80,101.74 L390.44,99.69 Z" fill="#111"/>
<path d="M431.80,86.70 L427.42,90.58" stroke="#ed1c24" stroke-width="1.60"/>
<path d="M423.90,93.70 L425.80,88.01 L429.78,92.50 Z" fill="#ed1c24"/>
<path d="M454.00,98.20 L455.25,99.74" stroke="#ed1c24" stroke-width="1.60"/>
<path d="M458.20,103.40 L452.60,101.24 L457.27,97.47 Z" fill="#ed1c24"/>
<text x="331.80" y="215.70" font-size="24.00" font-weight="bold" font-style="normal" text-anchor="start" fill="#000" >c</text>
<text x="429.1" y="214.1" font-size="13.1" text-anchor="middle" fill="#109a4a"><tspan font-size="7" dy="-5.2">15</tspan><tspan dy="5.2">N-</tspan><tspan font-weight="bold">MRAS:</tspan> 460 min</text>
<text x="429.3" y="227.4" font-size="13.1" text-anchor="middle" fill="#109a4a">+1:5 SOS<tspan font-size="8" dy="-5">cat</tspan></text>
<text x="429.00" y="240.10" font-size="13.10" font-weight="normal" font-style="normal" text-anchor="middle" fill="#109a4a" >+20:1 GTPγS</text>
<clipPath id="cc"><rect x="366.70" y="246.30" width="125.20" height="113.90"/></clipPath>
<g clip-path="url(#cc)">
<g transform="translate(458.30,248.60) rotate(0.0)">
<ellipse rx="8.40" ry="8.40" fill="#f9c0c2"/>
<ellipse rx="3.78" ry="3.19" fill="#fde6e6" opacity="0.5"/>
</g>
<g transform="translate(465.30,248.60) rotate(-15.0)">
<ellipse rx="6.50" ry="4.20" fill="#f9c0c2"/>
</g>
<g transform="translate(418.70,294.80) rotate(0.0)">
<ellipse rx="7.90" ry="6.20" fill="#f9c0c2"/>
<ellipse rx="3.56" ry="2.36" fill="#fde6e6" opacity="0.5"/>
</g>
<g transform="translate(465.20,303.60) rotate(0.0)">
<ellipse rx="7.30" ry="7.20" fill="#f9c0c2"/>
<ellipse rx="3.29" ry="2.74" fill="#fde6e6" opacity="0.5"/>
</g>
<g transform="translate(433.10,322.70) rotate(-20.0)">
<ellipse rx="8.60" ry="5.40" fill="#f9c0c2"/>
<ellipse rx="3.87" ry="2.05" fill="#fde6e6" opacity="0.5"/>
</g>
<g transform="translate(376.60,342.40) rotate(0.0)">
<ellipse rx="8.60" ry="7.10" fill="#f9c0c2"/>
</g>
<g transform="translate(383.80,342.10) rotate(0.0)">
<ellipse rx="9.50" ry="6.30" fill="#f9c0c2"/>
</g>
<g transform="translate(391.10,341.70) rotate(0.0)">
<ellipse rx="8.60" ry="6.10" fill="#f9c0c2"/>
</g>
<g transform="translate(421.50,347.50) rotate(5.0)">
<ellipse rx="9.40" ry="5.30" fill="#f9c0c2"/>
<ellipse rx="4.23" ry="2.01" fill="#fde6e6" opacity="0.5"/>
</g>
<ellipse cx="384.30" cy="342.00" rx="11" ry="2.4" fill="#fde6e6" opacity="0.55"/>
<g transform="translate(386.20,255.00) rotate(0.0)">
<ellipse rx="5.60" ry="5.20" fill="#109a4a"/>
<ellipse rx="2.52" ry="1.98" fill="#49b46f" opacity="0.5"/>
</g>
<g transform="translate(410.60,246.40) rotate(0.0)">
<ellipse rx="4.40" ry="2.60" fill="#109a4a"/>
</g>
<g transform="translate(391.00,305.30) rotate(0.0)">
<ellipse rx="6.00" ry="5.30" fill="#109a4a"/>
<ellipse rx="2.70" ry="2.01" fill="#49b46f" opacity="0.5"/>
</g>
<g transform="translate(481.30,293.10) rotate(0.0)">
<ellipse rx="6.10" ry="5.30" fill="#109a4a"/>
<ellipse rx="2.75" ry="2.01" fill="#49b46f" opacity="0.5"/>
</g>
<g transform="translate(440.40,318.70) rotate(-30.0)">
<ellipse rx="7.60" ry="6.30" fill="#109a4a"/>
<ellipse rx="3.42" ry="2.39" fill="#49b46f" opacity="0.5"/>
</g>
<g transform="translate(404.10,335.80) rotate(0.0)">
<ellipse rx="7.00" ry="5.80" fill="#109a4a"/>
<ellipse rx="3.15" ry="2.20" fill="#49b46f" opacity="0.5"/>
</g>
<g transform="translate(426.80,349.40) rotate(0.0)">
<ellipse rx="8.20" ry="6.20" fill="#109a4a"/>
<ellipse rx="3.69" ry="2.36" fill="#49b46f" opacity="0.5"/>
</g>
</g>
<rect x="366.70" y="246.30" width="125.20" height="113.90" fill="none" stroke="#3a3a3a" stroke-width="1.2"/>
<g stroke="#111" stroke-width="1.4">
<path d="M363.70,260.10 H366.70"/>
<path d="M363.70,286.30 H366.70"/>
<path d="M363.70,312.40 H366.70"/>
<path d="M363.70,338.60 H366.70"/>
<path d="M369.00,360.20 V362.90"/>
<path d="M389.45,360.20 V362.90"/>
<path d="M409.90,360.20 V362.90"/>
<path d="M430.35,360.20 V362.90"/>
<path d="M450.80,360.20 V362.90"/>
<path d="M471.25,360.20 V362.90"/>
</g>
<text x="362.50" y="262.50" font-size="6.90" font-weight="normal" font-style="normal" text-anchor="end" fill="#222" >124</text>
<text x="362.50" y="288.70" font-size="6.90" font-weight="normal" font-style="normal" text-anchor="end" fill="#222" >125</text>
<text x="362.50" y="314.80" font-size="6.90" font-weight="normal" font-style="normal" text-anchor="end" fill="#222" >126</text>
<text x="362.50" y="341.00" font-size="6.90" font-weight="normal" font-style="normal" text-anchor="end" fill="#222" >127</text>
<text x="369.00" y="369.50" font-size="6.90" font-weight="normal" font-style="normal" text-anchor="middle" fill="#222" >9.2</text>
<text x="389.45" y="369.50" font-size="6.90" font-weight="normal" font-style="normal" text-anchor="middle" fill="#222" >9.1</text>
<text x="409.90" y="369.50" font-size="6.90" font-weight="normal" font-style="normal" text-anchor="middle" fill="#222" >9.0</text>
<text x="430.35" y="369.50" font-size="6.90" font-weight="normal" font-style="normal" text-anchor="middle" fill="#222" >8.9</text>
<text x="450.80" y="369.50" font-size="6.90" font-weight="normal" font-style="normal" text-anchor="middle" fill="#222" >8.8</text>
<text x="471.25" y="369.50" font-size="6.90" font-weight="normal" font-style="normal" text-anchor="middle" fill="#222" >8.7</text>
<text x="428.40" y="381.80" font-size="13.40" font-weight="normal" font-style="normal" text-anchor="middle" fill="#111" >1H</text>
<text transform="translate(350.40,304.20) rotate(-90)" font-size="13" text-anchor="middle" fill="#111">15N</text>
<text x="514.80" y="17.60" font-size="24.00" font-weight="bold" font-style="normal" text-anchor="start" fill="#000" >d</text>
<path d="M584.10,9.80 H601.30 M584.10,23.80 H601.30 M584.10,8.90 V24.70 M582.00,16.80 H584.10 M582.00,37.80 H598.10 M582.00,15.90 V38.70 M574.10,27.30 H582.00 M574.10,51.80 H601.30 M574.10,26.40 V52.70 M548.60,39.55 H574.10 M560.50,65.80 H603.50 M560.50,79.80 H600.20 M560.50,64.90 V80.70 M556.70,72.80 H560.50 M556.70,93.80 H604.70 M556.70,71.90 V94.70 M548.60,83.30 H556.70 M548.60,38.65 V84.20 M547.50,61.42 H548.60 M553.30,107.80 H605.80 M553.30,121.80 H605.60 M553.30,106.90 V122.70 M547.50,114.80 H553.30 M547.50,60.52 V115.70 M541.90,88.11 H547.50 M587.00,135.80 H606.80 M587.00,149.80 H606.80 M587.00,134.90 V150.70 M567.90,142.80 H587.00 M567.90,163.80 H608.00 M567.90,141.90 V164.70 M541.90,153.30 H567.90 M541.90,87.21 V154.20 M539.40,120.71 H541.90 M569.10,177.80 H606.80 M569.10,191.80 H605.60 M569.10,176.90 V192.70 M539.40,184.80 H569.10 M539.40,119.81 V185.70 M538.10,152.75 H539.40 M587.70,205.80 H598.10 M587.70,219.80 H598.90 M587.70,204.90 V220.70 M584.50,212.80 H587.70 M584.50,233.80 H598.10 M584.50,211.90 V234.70 M564.10,223.30 H584.50 M564.10,247.80 H598.10 M564.10,222.40 V248.70 M553.90,235.55 H564.10 M589.40,261.80 H595.60 M589.40,275.80 H595.60 M589.40,260.90 V276.70 M579.00,268.80 H589.40 M579.00,289.80 H596.40 M579.00,267.90 V290.70 M553.90,279.30 H579.00 M553.90,234.65 V280.20 M544.40,257.43 H553.90 M544.40,303.80 H607.30 M544.40,256.53 V304.70 M538.10,280.61 H544.40 M538.10,151.85 V281.51 M535.60,216.68 H538.10 M535.60,317.80 H613.60 M535.60,215.78 V318.70 M531.40,267.24 H535.60 M553.10,331.80 H605.00 M553.10,345.80 H608.10 M553.10,330.90 V346.70 M538.40,338.80 H553.10 M538.40,359.80 H608.80 M538.40,337.90 V360.70 M531.40,349.30 H538.40 M531.40,266.34 V350.20" stroke="#111" stroke-width="1.8" fill="none"/>
<path d="M604.30,9.80 H624.6 M604.30,23.80 H624.6 M601.10,37.80 H624.6 M604.30,51.80 H624.6 M606.50,65.80 H624.6 M603.20,79.80 H624.6 M607.70,93.80 H624.6 M608.80,107.80 H624.6 M608.60,121.80 H624.6 M609.80,135.80 H624.6 M609.80,149.80 H624.6 M611.00,163.80 H624.6 M609.80,177.80 H624.6 M608.60,191.80 H624.6 M601.10,205.80 H624.6 M601.90,219.80 H624.6 M601.10,233.80 H624.6 M601.10,247.80 H624.6 M598.60,261.80 H624.6 M598.60,275.80 H624.6 M599.40,289.80 H624.6 M610.30,303.80 H624.6 M616.60,317.80 H624.6 M608.00,331.80 H624.6 M611.10,345.80 H624.6 M611.80,359.80 H624.6" stroke="#777" stroke-width="1.5" stroke-dasharray="1.3 2.47" fill="none"/>
<text x="625.50" y="13.70" font-size="11.20" font-weight="normal" font-style="normal" text-anchor="start" fill="#151515" >HRAS</text>
<text x="625.50" y="27.70" font-size="11.20" font-weight="normal" font-style="normal" text-anchor="start" fill="#151515" >NRAS</text>
<text x="625.50" y="41.70" font-size="11.20" font-weight="normal" font-style="normal" text-anchor="start" fill="#151515" >KRAS</text>
<text x="625.50" y="55.70" font-size="11.20" font-weight="normal" font-style="normal" text-anchor="start" fill="#c1272d" >LET-60</text>
<text x="625.50" y="69.70" font-size="11.20" font-weight="normal" font-style="normal" text-anchor="start" fill="#151515" >RRAS</text>
<text x="625.50" y="83.70" font-size="11.20" font-weight="normal" font-style="normal" text-anchor="start" fill="#151515" >RRAS2</text>
<text x="625.50" y="97.70" font-size="11.20" font-weight="normal" font-style="normal" text-anchor="start" fill="#c1272d" >RAS-1</text>
<text x="625.50" y="111.70" font-size="11.20" font-weight="normal" font-style="normal" text-anchor="start" fill="#151515" >MRAS</text>
<text x="625.50" y="125.70" font-size="11.20" font-weight="normal" font-style="normal" text-anchor="start" fill="#c1272d" >RAS-2</text>
<text x="625.50" y="139.70" font-size="11.20" font-weight="normal" font-style="normal" text-anchor="start" fill="#151515" >RALA</text>
<text x="625.50" y="153.70" font-size="11.20" font-weight="normal" font-style="normal" text-anchor="start" fill="#151515" >RALB</text>
<text x="625.50" y="167.70" font-size="11.20" font-weight="normal" font-style="normal" text-anchor="start" fill="#c1272d" >RAL-1</text>
<text x="625.50" y="181.70" font-size="11.20" font-weight="normal" font-style="normal" text-anchor="start" fill="#151515" >RIT1</text>
<text x="625.50" y="195.70" font-size="11.20" font-weight="normal" font-style="normal" text-anchor="start" fill="#151515" >RIT2</text>
<text x="625.50" y="209.70" font-size="11.20" font-weight="normal" font-style="normal" text-anchor="start" fill="#151515" >RAP2A</text>
<text x="625.50" y="223.70" font-size="11.20" font-weight="normal" font-style="normal" text-anchor="start" fill="#151515" >RAP2C</text>
<text x="625.50" y="237.70" font-size="11.20" font-weight="normal" font-style="normal" text-anchor="start" fill="#151515" >RAP2B</text>
<text x="625.50" y="251.70" font-size="11.20" font-weight="normal" font-style="normal" text-anchor="start" fill="#c1272d" >RAP-2</text>
<text x="625.50" y="265.70" font-size="11.20" font-weight="normal" font-style="normal" text-anchor="start" fill="#151515" >RAP1A</text>
<text x="625.50" y="279.70" font-size="11.20" font-weight="normal" font-style="normal" text-anchor="start" fill="#151515" >RAP1B</text>
<text x="625.50" y="293.70" font-size="11.20" font-weight="normal" font-style="normal" text-anchor="start" fill="#c1272d" >RAP-1</text>
<text x="625.50" y="307.70" font-size="11.20" font-weight="normal" font-style="normal" text-anchor="start" fill="#c1272d" >RAP-3</text>
<text x="625.50" y="321.70" font-size="11.20" font-weight="normal" font-style="normal" text-anchor="start" fill="#151515" >ERAS</text>
<text x="625.50" y="335.70" font-size="11.20" font-weight="normal" font-style="normal" text-anchor="start" fill="#151515" >RHEB</text>
<text x="625.50" y="349.70" font-size="11.20" font-weight="normal" font-style="normal" text-anchor="start" fill="#151515" >RHEBL1</text>
<text x="625.50" y="363.70" font-size="11.20" font-weight="normal" font-style="normal" text-anchor="start" fill="#c1272d" >RHEB-1</text>
<path transform="translate(663.11,56.40)" d="M11.80,0.50 C11.67,0.08 11.55,-1.42 11.00,-2.00 C10.45,-2.58 9.47,-2.90 8.50,-3.00 C7.53,-3.10 6.24,-2.70 5.20,-2.60 C4.16,-2.50 3.05,-2.22 2.25,-2.40 C1.45,-2.58 0.78,-3.14 0.40,-3.70 C0.03,-4.26 -0.17,-5.13 0.00,-5.75 C0.17,-6.37 0.75,-7.06 1.40,-7.40 C2.05,-7.74 3.07,-7.90 3.90,-7.80 C4.73,-7.70 5.63,-7.03 6.40,-6.80 C7.17,-6.57 7.83,-6.33 8.50,-6.40 C9.17,-6.47 10.05,-6.78 10.40,-7.20 C10.75,-7.62 10.85,-8.48 10.60,-8.90 C10.35,-9.32 9.50,-9.67 8.90,-9.70 C8.30,-9.73 7.32,-9.20 7.00,-9.10" stroke="#c1272d" stroke-width="1.85" fill="none" stroke-linecap="round"/>
<path transform="translate(659.99,98.40)" d="M11.80,0.50 C11.67,0.08 11.55,-1.42 11.00,-2.00 C10.45,-2.58 9.47,-2.90 8.50,-3.00 C7.53,-3.10 6.24,-2.70 5.20,-2.60 C4.16,-2.50 3.05,-2.22 2.25,-2.40 C1.45,-2.58 0.78,-3.14 0.40,-3.70 C0.03,-4.26 -0.17,-5.13 0.00,-5.75 C0.17,-6.37 0.75,-7.06 1.40,-7.40 C2.05,-7.74 3.07,-7.90 3.90,-7.80 C4.73,-7.70 5.63,-7.03 6.40,-6.80 C7.17,-6.57 7.83,-6.33 8.50,-6.40 C9.17,-6.47 10.05,-6.78 10.40,-7.20 C10.75,-7.62 10.85,-8.48 10.60,-8.90 C10.35,-9.32 9.50,-9.67 8.90,-9.70 C8.30,-9.73 7.32,-9.20 7.00,-9.10" stroke="#c1272d" stroke-width="1.85" fill="none" stroke-linecap="round"/>
<path transform="translate(659.99,126.40)" d="M11.80,0.50 C11.67,0.08 11.55,-1.42 11.00,-2.00 C10.45,-2.58 9.47,-2.90 8.50,-3.00 C7.53,-3.10 6.24,-2.70 5.20,-2.60 C4.16,-2.50 3.05,-2.22 2.25,-2.40 C1.45,-2.58 0.78,-3.14 0.40,-3.70 C0.03,-4.26 -0.17,-5.13 0.00,-5.75 C0.17,-6.37 0.75,-7.06 1.40,-7.40 C2.05,-7.74 3.07,-7.90 3.90,-7.80 C4.73,-7.70 5.63,-7.03 6.40,-6.80 C7.17,-6.57 7.83,-6.33 8.50,-6.40 C9.17,-6.47 10.05,-6.78 10.40,-7.20 C10.75,-7.62 10.85,-8.48 10.60,-8.90 C10.35,-9.32 9.50,-9.67 8.90,-9.70 C8.30,-9.73 7.32,-9.20 7.00,-9.10" stroke="#c1272d" stroke-width="1.85" fill="none" stroke-linecap="round"/>
<path transform="translate(658.75,168.40)" d="M11.80,0.50 C11.67,0.08 11.55,-1.42 11.00,-2.00 C10.45,-2.58 9.47,-2.90 8.50,-3.00 C7.53,-3.10 6.24,-2.70 5.20,-2.60 C4.16,-2.50 3.05,-2.22 2.25,-2.40 C1.45,-2.58 0.78,-3.14 0.40,-3.70 C0.03,-4.26 -0.17,-5.13 0.00,-5.75 C0.17,-6.37 0.75,-7.06 1.40,-7.40 C2.05,-7.74 3.07,-7.90 3.90,-7.80 C4.73,-7.70 5.63,-7.03 6.40,-6.80 C7.17,-6.57 7.83,-6.33 8.50,-6.40 C9.17,-6.47 10.05,-6.78 10.40,-7.20 C10.75,-7.62 10.85,-8.48 10.60,-8.90 C10.35,-9.32 9.50,-9.67 8.90,-9.70 C8.30,-9.73 7.32,-9.20 7.00,-9.10" stroke="#c1272d" stroke-width="1.85" fill="none" stroke-linecap="round"/>
<path transform="translate(659.99,252.40)" d="M11.80,0.50 C11.67,0.08 11.55,-1.42 11.00,-2.00 C10.45,-2.58 9.47,-2.90 8.50,-3.00 C7.53,-3.10 6.24,-2.70 5.20,-2.60 C4.16,-2.50 3.05,-2.22 2.25,-2.40 C1.45,-2.58 0.78,-3.14 0.40,-3.70 C0.03,-4.26 -0.17,-5.13 0.00,-5.75 C0.17,-6.37 0.75,-7.06 1.40,-7.40 C2.05,-7.74 3.07,-7.90 3.90,-7.80 C4.73,-7.70 5.63,-7.03 6.40,-6.80 C7.17,-6.57 7.83,-6.33 8.50,-6.40 C9.17,-6.47 10.05,-6.78 10.40,-7.20 C10.75,-7.62 10.85,-8.48 10.60,-8.90 C10.35,-9.32 9.50,-9.67 8.90,-9.70 C8.30,-9.73 7.32,-9.20 7.00,-9.10" stroke="#c1272d" stroke-width="1.85" fill="none" stroke-linecap="round"/>
<path transform="translate(659.99,294.40)" d="M11.80,0.50 C11.67,0.08 11.55,-1.42 11.00,-2.00 C10.45,-2.58 9.47,-2.90 8.50,-3.00 C7.53,-3.10 6.24,-2.70 5.20,-2.60 C4.16,-2.50 3.05,-2.22 2.25,-2.40 C1.45,-2.58 0.78,-3.14 0.40,-3.70 C0.03,-4.26 -0.17,-5.13 0.00,-5.75 C0.17,-6.37 0.75,-7.06 1.40,-7.40 C2.05,-7.74 3.07,-7.90 3.90,-7.80 C4.73,-7.70 5.63,-7.03 6.40,-6.80 C7.17,-6.57 7.83,-6.33 8.50,-6.40 C9.17,-6.47 10.05,-6.78 10.40,-7.20 C10.75,-7.62 10.85,-8.48 10.60,-8.90 C10.35,-9.32 9.50,-9.67 8.90,-9.70 C8.30,-9.73 7.32,-9.20 7.00,-9.10" stroke="#c1272d" stroke-width="1.85" fill="none" stroke-linecap="round"/>
<path transform="translate(659.99,308.40)" d="M11.80,0.50 C11.67,0.08 11.55,-1.42 11.00,-2.00 C10.45,-2.58 9.47,-2.90 8.50,-3.00 C7.53,-3.10 6.24,-2.70 5.20,-2.60 C4.16,-2.50 3.05,-2.22 2.25,-2.40 C1.45,-2.58 0.78,-3.14 0.40,-3.70 C0.03,-4.26 -0.17,-5.13 0.00,-5.75 C0.17,-6.37 0.75,-7.06 1.40,-7.40 C2.05,-7.74 3.07,-7.90 3.90,-7.80 C4.73,-7.70 5.63,-7.03 6.40,-6.80 C7.17,-6.57 7.83,-6.33 8.50,-6.40 C9.17,-6.47 10.05,-6.78 10.40,-7.20 C10.75,-7.62 10.85,-8.48 10.60,-8.90 C10.35,-9.32 9.50,-9.67 8.90,-9.70 C8.30,-9.73 7.32,-9.20 7.00,-9.10" stroke="#c1272d" stroke-width="1.85" fill="none" stroke-linecap="round"/>
<path transform="translate(668.08,364.40)" d="M11.80,0.50 C11.67,0.08 11.55,-1.42 11.00,-2.00 C10.45,-2.58 9.47,-2.90 8.50,-3.00 C7.53,-3.10 6.24,-2.70 5.20,-2.60 C4.16,-2.50 3.05,-2.22 2.25,-2.40 C1.45,-2.58 0.78,-3.14 0.40,-3.70 C0.03,-4.26 -0.17,-5.13 0.00,-5.75 C0.17,-6.37 0.75,-7.06 1.40,-7.40 C2.05,-7.74 3.07,-7.90 3.90,-7.80 C4.73,-7.70 5.63,-7.03 6.40,-6.80 C7.17,-6.57 7.83,-6.33 8.50,-6.40 C9.17,-6.47 10.05,-6.78 10.40,-7.20 C10.75,-7.62 10.85,-8.48 10.60,-8.90 C10.35,-9.32 9.50,-9.67 8.90,-9.70 C8.30,-9.73 7.32,-9.20 7.00,-9.10" stroke="#c1272d" stroke-width="1.85" fill="none" stroke-linecap="round"/>
<path d="M527.4,367.2 H539.8" stroke="#111" stroke-width="2"/>
<text x="533.80" y="379.60" font-size="9.40" font-weight="normal" font-style="normal" text-anchor="middle" fill="#222" >0.05</text>
<path transform="translate(560.30,380.20)" d="M11.80,0.50 C11.67,0.08 11.55,-1.42 11.00,-2.00 C10.45,-2.58 9.47,-2.90 8.50,-3.00 C7.53,-3.10 6.24,-2.70 5.20,-2.60 C4.16,-2.50 3.05,-2.22 2.25,-2.40 C1.45,-2.58 0.78,-3.14 0.40,-3.70 C0.03,-4.26 -0.17,-5.13 0.00,-5.75 C0.17,-6.37 0.75,-7.06 1.40,-7.40 C2.05,-7.74 3.07,-7.90 3.90,-7.80 C4.73,-7.70 5.63,-7.03 6.40,-6.80 C7.17,-6.57 7.83,-6.33 8.50,-6.40 C9.17,-6.47 10.05,-6.78 10.40,-7.20 C10.75,-7.62 10.85,-8.48 10.60,-8.90 C10.35,-9.32 9.50,-9.67 8.90,-9.70 C8.30,-9.73 7.32,-9.20 7.00,-9.10" stroke="#c1272d" stroke-width="1.85" fill="none" stroke-linecap="round"/>
<text x="574.9" y="379.9" font-size="11.5" fill="#111">= <tspan font-style="italic">C. elegans</tspan> ortholog</text>
</svg></body></html>
